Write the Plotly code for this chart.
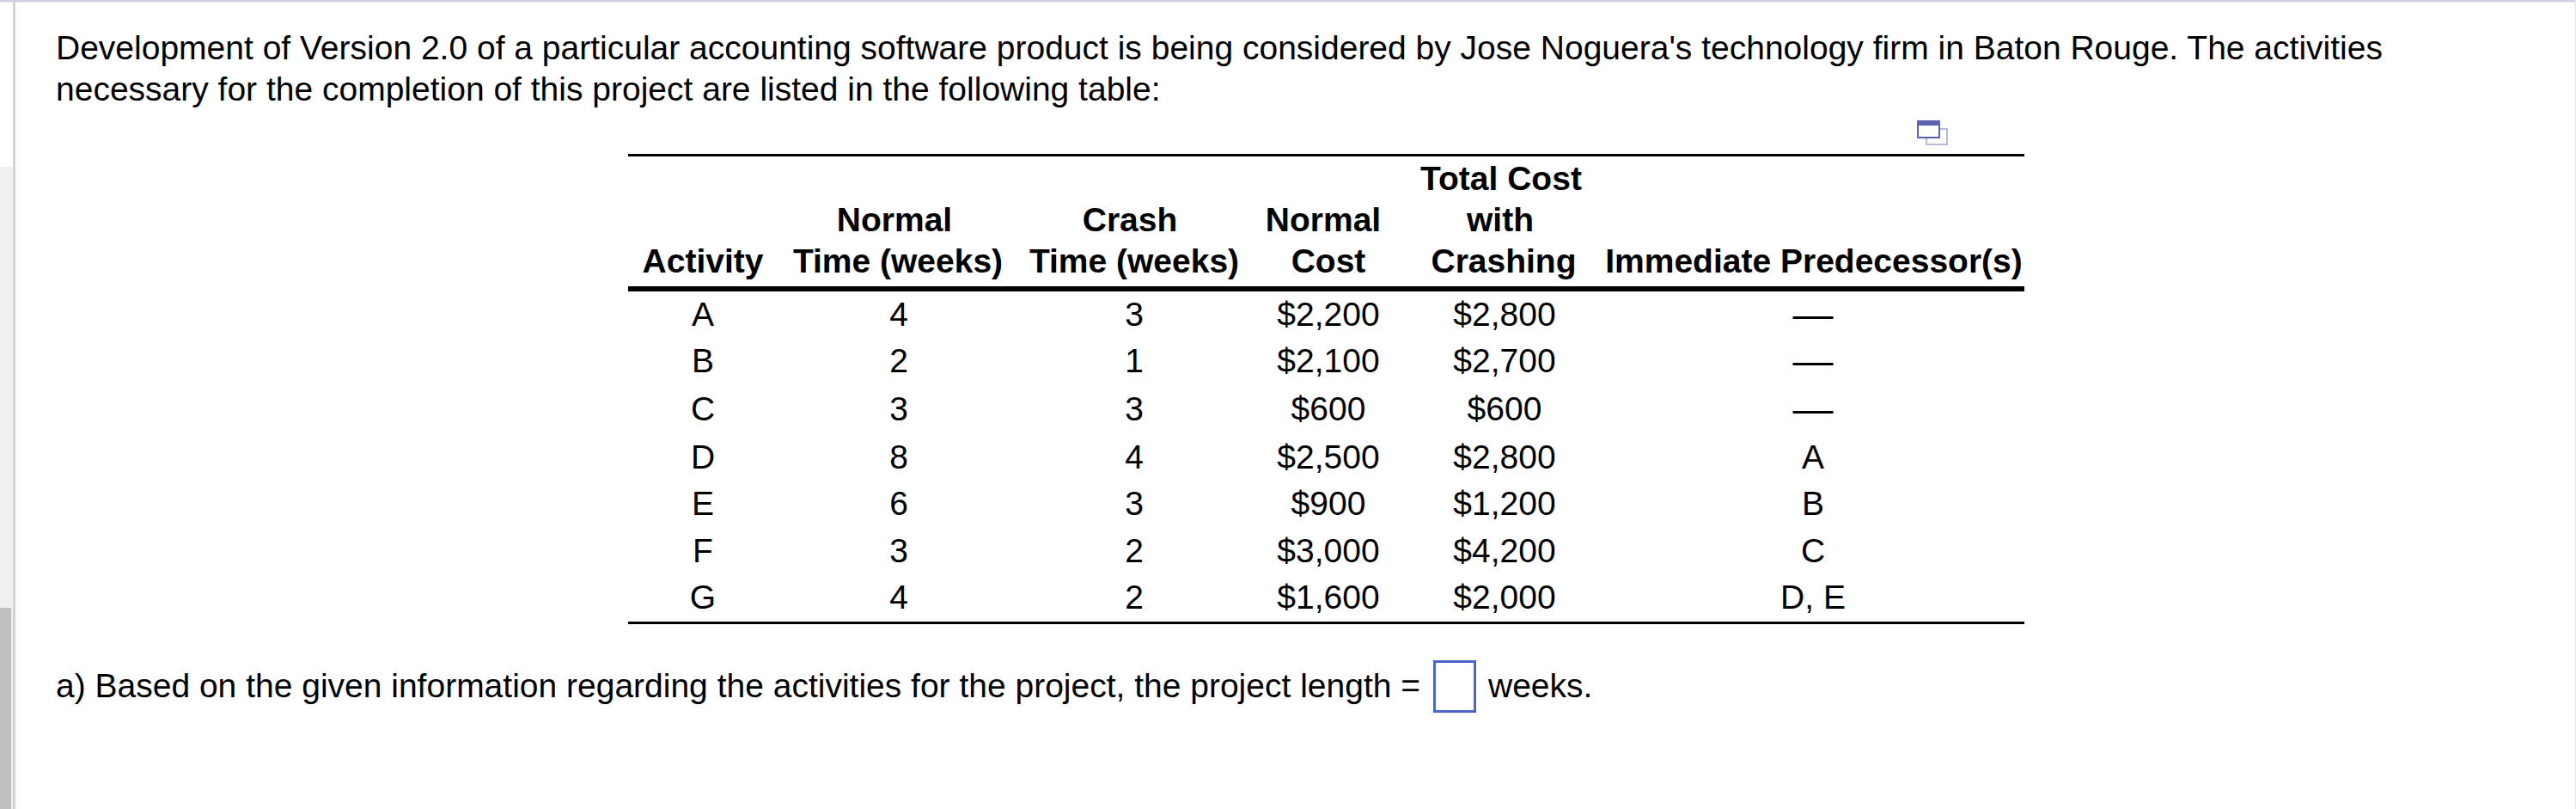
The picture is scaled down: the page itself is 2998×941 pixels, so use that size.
import plotly.graph_objects as go

# ---- data ----
activities = ["A", "B", "C", "D", "E", "F", "G"]
normal_time = [4, 2, 3, 8, 6, 3, 4]
crash_time = [3, 1, 3, 4, 3, 2, 2]
normal_cost = ["$2,200", "$2,100", "$600", "$2,500", "$900", "$3,000", "$1,600"]
crash_cost = ["$2,800", "$2,700", "$600", "$2,800", "$1,200", "$4,200", "$2,000"]
predecessors = ["—", "—", "—", "A", "B", "C", "D, E"]

header_line1 = ["", "", "", "", "Total Cost", ""]
header_line2 = ["", "Normal", "Crash", "Normal", "with", ""]
header_line3 = ["Activity", "Time (weeks)", "Time (weeks)", "Cost", "Crashing", "Immediate Predecessor(s)"]

intro_lines = [
    "Development of Version 2.0 of a particular accounting software product is being considered by Jose Noguera's technology firm in Baton Rouge. The activities",
    "necessary for the completion of this project are listed in the following table:",
]
question = "a) Based on the given information regarding the activities for the project, the project length ="
question_end = "weeks."

# ---- layout geometry (page pixels) ----
W, H = 2998, 941
FS = 39
DASH_FS = 47
FONT = "Liberation Sans"
col_x = [818, 1046, 1320, 1546, 1751, 2110]
head_x = [
    [818, 1041, 1315, 1540, 1747, 2111],
    [818, 1041, 1315, 1540, 1746, 2111],
    [818, 1045, 1320, 1546, 1750, 2111],
]
row_base = [381, 435, 491, 547, 601, 656, 710]
head_base = [223, 271, 319]
BASE_SHIFT = 0.3 * FS


def y_mid(b):
    return b - BASE_SHIFT


fig = go.Figure()

# header cells
for base, line, hx in zip(head_base, [header_line1, header_line2, header_line3], head_x):
    xs = [x for x, t in zip(hx, line) if t]
    ts = [f"<b>{t}</b>" for t in line if t]
    fig.add_trace(go.Scatter(
        x=xs, y=[y_mid(base)] * len(xs), text=ts, mode="text",
        textposition="middle center",
        textfont=dict(family=FONT, size=FS, color="#000000"),
        hoverinfo="skip", showlegend=False,
    ))

# body cells, one trace per column
columns = [activities, normal_time, crash_time, normal_cost, crash_cost, predecessors]
for x, col in zip(col_x, columns):
    labels = [str(v) for v in col]
    fig.add_trace(go.Scatter(
        x=[x] * len(col), y=[y_mid(b) for b in row_base], text=labels,
        mode="text", textposition="middle center",
        textfont=dict(family=FONT, color="#000000",
                      size=[DASH_FS if t == "—" else FS for t in labels]),
        hoverinfo="skip", showlegend=False,
    ))


def prose(x, base, text):
    fig.add_annotation(
        x=x, y=y_mid(base), xref="x", yref="y", text=text, showarrow=False,
        xanchor="left", yanchor="middle", align="left",
        borderpad=0, borderwidth=0,
        font=dict(family=FONT, size=FS, color="#000000"),
    )


prose(65, 67, intro_lines[0])
prose(65, 115, intro_lines[1])
prose(65, 809, question)
prose(1731, 809, question_end)


def rect(x0, y0, x1, y1, fill=None, line=None, lw=0):
    fig.add_shape(
        type="rect", xref="x", yref="y", x0=x0, y0=y0, x1=x1, y1=y1,
        fillcolor=fill if fill else "rgba(0,0,0,0)",
        line=dict(color=line if line else "rgba(0,0,0,0)", width=lw),
        layer="below",
    )


# page chrome
rect(0, 0, W, 2.5, fill="#ced2e0")
rect(0, 194, 15, H, fill="#f0f0f0")
rect(0, 707, 13, H, fill="#c0c0c0")
rect(15, 0, 18, H, fill="#d0d3e0")
rect(2996.5, 0, W, H, fill="#e8e8ec")

# table rules
rect(731, 179, 2356, 182, fill="#000000")
rect(731, 333, 2356, 339, fill="#000000")
rect(731, 723, 2356, 726, fill="#000000")

# answer box
rect(1669.5, 769.5, 1716.5, 827.5, fill="#ffffff", line="#4a66c8", lw=3)

# icon
rect(2242, 150, 2266, 168, fill="#ffffff", line="#b8bcdc", lw=2)
rect(2232, 141, 2257, 160, fill="#ffffff", line="#5a62b0", lw=2)
rect(2232, 141, 2257, 146, fill="#5a62b0")

fig.update_layout(
    width=W, height=H, margin=dict(l=0, r=0, t=0, b=0),
    paper_bgcolor="#ffffff", plot_bgcolor="#ffffff",
    showlegend=False,
    xaxis=dict(visible=False, range=[0, W], fixedrange=True),
    yaxis=dict(visible=False, range=[H, 0], fixedrange=True),
)

fig.write_html(
    "out.html",
    config={"displayModeBar": False},
    post_script="document.body.style.margin='0';document.body.style.overflow='hidden';",
)
